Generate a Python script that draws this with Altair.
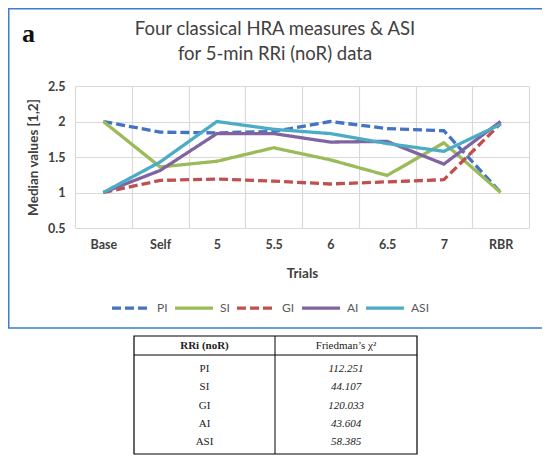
import altair as alt
import pandas as pd

trials = ["Base", "Self", "5", "5.5", "6", "6.5", "7", "RBR"]
measures = ["PI", "SI", "GI", "AI", "ASI"]
pi_vals = [2.0, 1.85, 1.84, 1.86, 2.0, 1.90, 1.87, 1.0]
si_vals = [2.0, 1.36, 1.44, 1.63, 1.46, 1.24, 1.70, 1.0]
gi_vals = [1.0, 1.17, 1.19, 1.16, 1.12, 1.15, 1.18, 1.97]
ai_vals = [1.0, 1.31, 1.83, 1.83, 1.71, 1.72, 1.40, 2.0]
asi_vals = [1.0, 1.43, 2.0, 1.89, 1.83, 1.69, 1.58, 1.96]
colors = ["#4472C4", "#9BBB59", "#C0504D", "#8064A2", "#4BACC6"]
dashes = [[9, 4], [1, 0], [9, 4], [1, 0], [1, 0]]
y_ticks = [0.5, 1, 1.5, 2, 2.5]

table_rows = ["PI", "SI", "GI", "AI", "ASI"]
chi2 = ["112.251", "44.107", "120.033", "43.604", "58.385"]

recs = []
for m, vals in zip(measures, [pi_vals, si_vals, gi_vals, ai_vals, asi_vals]):
    for i, (t, v) in enumerate(zip(trials, vals)):
        recs.append({"measure": m, "trial": t, "value": v, "idx": i})
df = pd.DataFrame(recs)
tdf = pd.DataFrame({"row": table_rows, "chi2": chi2})

GRAY = "#404040"
FONT = "Lato"
SERIF = "Liberation Serif"

one = alt.Data(values=[{}])

legend = alt.Legend(title=None, orient="none", legendX=35, legendY=201,
                    direction="horizontal", symbolType="stroke", symbolSize=1444,
                    symbolStrokeWidth=3.3, labelFont=FONT, labelFontSize=12,
                    labelColor="#595959", labelOffset=5, columnPadding=0, padding=0)

lines = alt.Chart(df).mark_line(strokeWidth=3.3).encode(
    x=alt.X("trial:O", sort=trials, bandPosition=0.5,
            scale=alt.Scale(type="band", domain=trials, paddingInner=0, paddingOuter=0),
            axis=alt.Axis(title="Trials", tickBand="extent", grid=True, gridColor="#D9D9D9",
                          gridWidth=1.2, domain=False, ticks=False, labelAngle=0,
                          labelPadding=10, labelFont=FONT, labelFontSize=12.5,
                          labelFontWeight="bold", labelColor=GRAY, titleFont=FONT,
                          titleFontSize=13.5, titleFontWeight="bold", titleColor=GRAY,
                          titleY=45, titleBaseline="middle")),
    y=alt.Y("value:Q", scale=alt.Scale(domain=[0.5, 2.5], nice=False, zero=False),
            axis=alt.Axis(values=y_ticks, format="~g", title="Median values [1,2]",
                          grid=True, gridColor="#D9D9D9", gridWidth=1.2, domain=False,
                          ticks=False, labelPadding=10, labelFont=FONT, labelFontSize=12.5,
                          labelFontWeight="bold", labelColor=GRAY, titleFont=FONT,
                          titleFontSize=13.5, titleFontWeight="bold", titleColor=GRAY,
                          titleX=-42, titleY=71, titleBaseline="middle")),
    color=alt.Color("measure:N", sort=measures,
                    scale=alt.Scale(domain=measures, range=colors), legend=legend),
    strokeDash=alt.StrokeDash("measure:N", sort=measures,
                              scale=alt.Scale(domain=measures, range=dashes), legend=legend),
    order=alt.Order("idx:Q"),
)

blue_box = alt.Chart(one).mark_rect(fillOpacity=0, stroke="#3A7FCF", strokeWidth=1.5).encode(
    x=alt.value(-66.25), x2=alt.value(469), y=alt.value(-77.25), y2=alt.value(242))


def txt(text, x, y, **kw):
    return alt.Chart(one).mark_text(text=text, **kw).encode(x=alt.value(x), y=alt.value(y))


letter = txt("a", -53, -44, font=SERIF, fontSize=26, fontWeight="bold", align="left",
             baseline="alphabetic", color="#111111")
title1 = txt("Four classical HRA measures & ASI", 200, -51, font=FONT, fontSize=18.5,
             align="center", baseline="alphabetic", color=GRAY)
title2 = txt("for 5-min RRi (noR) data", 200, -26, font=FONT, fontSize=18.5,
             align="center", baseline="alphabetic", color=GRAY)

table_box = alt.Chart(one).mark_rect(fillOpacity=0, stroke="#000000", strokeWidth=1.2).encode(
    x=alt.value(59), x2=alt.value(342), y=alt.value(250), y2=alt.value(368))
header_line = alt.Chart(one).mark_rule(color="#000000", strokeWidth=1).encode(
    x=alt.value(59), x2=alt.value(342), y=alt.value(269))
divider = alt.Chart(one).mark_rule(color="#000000", strokeWidth=1).encode(
    x=alt.value(200), y=alt.value(250), y2=alt.value(368))

head1 = txt("RRi (noR)", 129.5, 259.5, font=SERIF, fontSize=11, fontWeight="bold",
            align="center", baseline="middle", color="#222222")
head2 = txt("Friedman\u2019s \u03c7\u00b2", 271, 259.5, font=SERIF, fontSize=11,
            align="center", baseline="middle", color="#222222")

row_scale = alt.Scale(type="point", domain=table_rows, range=[283, 356], padding=0)
col1 = alt.Chart(tdf).mark_text(font=SERIF, fontSize=11, color="#222222", baseline="middle").encode(
    x=alt.value(129.5), y=alt.Y("row:N", sort=table_rows, scale=row_scale, axis=None),
    text="row:N")
col2 = alt.Chart(tdf).mark_text(font=SERIF, fontSize=11, fontStyle="italic", color="#222222",
                                baseline="middle").encode(
    x=alt.value(271), y=alt.Y("row:N", sort=table_rows, scale=row_scale, axis=None),
    text="chi2:N")

chart = alt.layer(
    blue_box, lines, letter, title1, title2, table_box, header_line, divider,
    head1, head2, col1, col2
).resolve_scale(y="independent").properties(
    width=454, height=142,
    autosize=alt.AutoSizeParams(type="none"),
    padding={"left": 67, "top": 78, "right": 13, "bottom": 228},
    background="white",
).configure_view(strokeWidth=0)

chart.save("out.html", embed_options={"renderer": "svg", "actions": False})
